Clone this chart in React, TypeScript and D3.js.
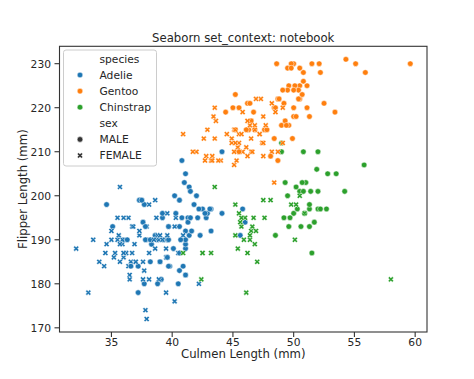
import React from "react";
import * as d3 from "d3";

type Pt = [number, number, string];

const adelie: Pt[] = [
  [39.1,181,"M"],[39.5,186,"F"],[40.3,195,"F"],[36.7,193,"F"],[39.3,190,"M"],[38.9,181,"F"],[39.2,195,"M"],[41.1,182,"F"],
  [38.6,191,"M"],[34.6,198,"M"],[36.6,185,"F"],[38.7,195,"F"],[42.5,197,"M"],[34.4,184,"F"],[46.0,194,"M"],[37.8,174,"F"],
  [37.7,180,"M"],[35.9,189,"F"],[38.2,185,"M"],[38.8,180,"M"],[35.3,187,"F"],[40.6,183,"M"],[40.5,187,"F"],[37.9,172,"F"],
  [40.5,180,"M"],[39.5,178,"F"],[37.2,178,"M"],[39.5,188,"F"],[40.9,184,"M"],[36.4,195,"F"],[39.2,196,"M"],[38.8,190,"M"],
  [42.2,180,"F"],[37.6,181,"F"],[39.8,184,"M"],[36.5,182,"F"],[40.8,195,"M"],[36.0,186,"F"],[44.1,196,"M"],[37.0,185,"F"],
  [39.6,190,"M"],[41.1,182,"M"],[36.0,190,"F"],[42.3,191,"M"],[39.6,186,"F"],[40.1,188,"M"],[35.0,190,"F"],[42.0,200,"M"],
  [34.5,187,"F"],[41.4,191,"M"],[39.0,185,"F"],[40.6,193,"M"],[36.5,181,"F"],[37.6,194,"M"],[35.7,185,"F"],[41.3,195,"M"],
  [37.6,185,"F"],[41.1,192,"M"],[36.4,184,"F"],[41.6,192,"M"],[35.5,195,"F"],[41.1,188,"M"],[35.9,190,"F"],[41.8,198,"M"],
  [33.5,190,"F"],[39.7,190,"M"],[39.6,196,"F"],[45.8,197,"M"],[35.5,190,"F"],[42.8,195,"M"],[40.9,191,"F"],[37.2,184,"M"],
  [36.2,187,"F"],[42.1,195,"M"],[34.6,189,"F"],[42.9,196,"M"],[36.7,187,"F"],[35.1,193,"M"],[37.3,191,"F"],[41.3,194,"M"],
  [36.3,190,"M"],[36.9,189,"F"],[38.3,189,"M"],[38.9,190,"F"],[35.7,202,"F"],[41.1,205,"M"],[34.0,185,"F"],[39.6,186,"M"],
  [36.2,187,"F"],[40.8,208,"M"],[38.1,190,"F"],[40.3,196,"M"],[33.1,178,"F"],[43.2,192,"M"],[35.0,192,"F"],[41.0,203,"M"],
  [37.7,183,"F"],[37.8,190,"M"],[37.9,193,"F"],[39.7,184,"M"],[38.6,199,"F"],[38.2,190,"M"],[38.1,181,"F"],[43.2,197,"M"],
  [38.1,198,"F"],[45.6,191,"M"],[39.7,193,"F"],[42.2,197,"M"],[39.6,191,"F"],[42.7,196,"M"],[38.6,188,"F"],[37.3,199,"M"],
  [35.7,189,"F"],[41.1,189,"M"],[36.2,187,"F"],[37.7,198,"M"],[40.2,176,"F"],[41.4,202,"M"],[35.2,186,"F"],[40.6,199,"M"],
  [38.8,191,"F"],[41.5,195,"M"],[39.0,191,"F"],[44.1,210,"M"],[38.5,190,"F"],[43.1,197,"M"],[36.8,193,"F"],[37.5,199,"M"],
  [38.1,187,"F"],[41.1,190,"M"],[35.6,191,"F"],[40.2,200,"M"],[37.0,185,"F"],[39.7,193,"M"],[40.2,193,"F"],[40.6,187,"M"],
  [32.1,188,"F"],[40.7,190,"M"],[37.3,192,"F"],[39.0,185,"M"],[39.2,190,"F"],[36.6,184,"M"],[36.0,195,"F"],[37.8,193,"M"],
  [36.0,187,"F"],[41.5,201,"M"],
];

const chinstrap: Pt[] = [
  [46.5,192,"F"],[50.0,196,"M"],[51.3,193,"M"],[45.4,188,"F"],[52.7,197,"M"],[45.2,198,"F"],[46.1,178,"F"],[51.3,197,"M"],
  [46.0,195,"F"],[51.3,198,"M"],[46.6,193,"F"],[51.7,194,"M"],[47.0,185,"F"],[52.0,201,"M"],[45.9,190,"F"],[50.5,201,"M"],
  [50.3,197,"M"],[58.0,181,"F"],[46.4,190,"F"],[49.2,195,"M"],[42.4,181,"F"],[48.5,191,"M"],[43.2,187,"F"],[50.6,193,"M"],
  [46.7,195,"F"],[52.0,197,"M"],[50.5,200,"F"],[49.5,200,"M"],[46.4,191,"F"],[52.8,205,"M"],[40.9,187,"F"],[54.2,201,"M"],
  [42.5,187,"F"],[51.0,203,"M"],[49.7,195,"M"],[47.5,199,"F"],[47.6,195,"F"],[52.0,210,"M"],[46.9,192,"F"],[53.5,205,"M"],
  [49.0,210,"M"],[46.2,187,"F"],[50.9,196,"M"],[45.5,196,"F"],[50.9,196,"F"],[50.8,201,"M"],[50.1,190,"F"],[49.0,212,"M"],
  [51.5,187,"M"],[49.8,198,"F"],[48.1,199,"F"],[51.4,201,"M"],[45.7,193,"F"],[50.7,203,"M"],[42.5,187,"F"],[52.2,197,"M"],
  [45.2,191,"F"],[49.3,203,"M"],[50.2,202,"M"],[45.6,194,"F"],[51.9,206,"M"],[46.8,189,"F"],[45.7,195,"F"],[55.8,207,"M"],
  [43.5,202,"F"],[49.6,193,"M"],[50.8,210,"M"],[50.2,198,"F"],
];

const gentoo: Pt[] = [
  [46.1,211,"F"],[50.0,230,"M"],[48.7,210,"F"],[50.0,218,"M"],[47.6,215,"M"],[46.5,210,"F"],[45.4,211,"F"],[46.7,219,"M"],
  [43.3,209,"F"],[46.8,215,"M"],[40.9,214,"F"],[49.0,216,"M"],[45.5,214,"F"],[48.4,213,"M"],[45.8,210,"F"],[49.3,217,"M"],
  [42.0,210,"F"],[49.2,221,"M"],[46.2,209,"F"],[48.7,222,"M"],[50.2,218,"M"],[45.1,215,"F"],[46.5,213,"F"],[46.3,215,"M"],
  [42.9,215,"F"],[46.1,215,"M"],[47.8,215,"M"],[48.2,210,"F"],[50.0,220,"M"],[47.3,222,"F"],[42.8,209,"F"],[45.1,207,"F"],
  [59.6,230,"M"],[49.1,220,"F"],[48.4,220,"M"],[42.6,213,"F"],[44.4,219,"M"],[44.0,208,"F"],[48.7,208,"M"],[42.7,208,"F"],
  [49.6,225,"M"],[45.3,210,"F"],[49.6,216,"M"],[50.5,222,"M"],[43.6,217,"F"],[45.5,210,"M"],[50.5,225,"M"],[44.9,213,"F"],
  [45.2,215,"M"],[46.6,210,"F"],[48.5,220,"M"],[45.1,210,"F"],[50.1,225,"M"],[46.5,217,"F"],[45.0,220,"M"],[43.8,208,"F"],
  [45.5,220,"M"],[43.2,208,"F"],[50.4,224,"M"],[45.3,208,"F"],[46.2,221,"M"],[45.7,214,"F"],[54.3,231,"M"],[45.8,219,"F"],
  [49.8,230,"M"],[49.5,229,"M"],[43.5,220,"F"],[50.7,223,"M"],[47.7,216,"F"],[46.4,221,"M"],[48.2,221,"F"],[46.5,217,"M"],
  [46.4,216,"F"],[48.6,230,"M"],[47.5,209,"F"],[51.1,220,"M"],[45.2,215,"F"],[45.2,223,"M"],[49.1,212,"F"],[52.5,221,"M"],
  [47.4,212,"F"],[50.0,224,"M"],[44.9,212,"F"],[50.8,228,"M"],[43.4,218,"F"],[51.3,218,"M"],[47.5,212,"F"],[52.1,230,"M"],
  [47.5,218,"F"],[52.2,228,"M"],[45.5,212,"F"],[49.5,224,"M"],[44.5,214,"F"],[50.8,226,"M"],[49.4,216,"M"],[46.9,222,"F"],
  [48.4,203,"F"],[51.1,225,"M"],[48.5,219,"F"],[55.9,228,"M"],[47.2,214,"F"],[49.1,224,"M"],[46.8,216,"F"],[41.7,210,"F"],
  [53.4,219,"M"],[43.3,208,"F"],[48.1,209,"M"],[50.5,229,"M"],[49.8,229,"M"],[43.5,213,"F"],[51.5,230,"M"],[46.2,217,"F"],
  [55.1,230,"M"],[48.8,222,"M"],[47.2,214,"F"],[46.8,215,"F"],[50.4,222,"M"],[45.2,212,"F"],[49.9,213,"M"],
];

const speciesNames = ["Adelie", "Gentoo", "Chinstrap"];
const speciesColors = ["#1f77b4", "#ff7f0e", "#2ca02c"];
const sexLabels = ["MALE", "FEMALE"];
const xTicks = [35, 40, 45, 50, 55, 60];
const yTicks = [170, 180, 190, 200, 210, 220, 230];

const W = 474, H = 379;
const L = 59.5, R = 427, T = 46.3, B = 332;
const FONT = "DejaVu Sans, sans-serif";
const TXT = "#262626";

const MS = 5.6; // marker size (px)

function xMarkerPath(size: number) {
  const v = [[-1,-2],[0,-1],[1,-2],[2,-1],[1,0],[2,1],[1,2],[0,1],[-1,2],[-2,1],[-1,0],[-2,-1]];
  const s = size / 4;
  return "M" + v.map(([a, b]) => `${(a * s).toFixed(2)},${(b * s).toFixed(2)}`).join("L") + "Z";
}

function Marker({ cx, cy, sex, color, edge }: { cx: number; cy: number; sex: string; color: string; edge: boolean }) {
  const sw = edge ? 0.5 : 0;
  if (sex === "M") {
    return <circle cx={cx} cy={cy} r={MS / 2} fill={color} stroke="#fff" strokeWidth={sw} />;
  }
  return <path d={xMarkerPath(MS)} transform={`translate(${cx},${cy})`} fill={color} stroke="#fff" strokeWidth={sw} />;
}

export default function App() {
  const x = d3.scaleLinear().domain([30.725, 60.975]).range([L, R]);
  const y = d3.scaleLinear().domain([169.05, 233.95]).range([B, T]);

  const groups: [Pt[], string][] = [
    [adelie, speciesColors[0]],
    [chinstrap, speciesColors[2]],
    [gentoo, speciesColors[1]],
  ];

  const legendRows: { label: string; kind: string; color?: string; sex?: string }[] = [
    { label: "species", kind: "title" },
    ...speciesNames.map((n, i) => ({ label: n, kind: "item", color: speciesColors[i], sex: "M" })),
    { label: "sex", kind: "title" },
    ...sexLabels.map((s) => ({ label: s, kind: "item", color: "#333333", sex: s === "MALE" ? "M" : "F" })),
  ];

  return (
    <svg width={W} height={H} style={{ position: "absolute", left: 0, top: 0, background: "#fff" }} fontFamily={FONT}>
      <rect x={0} y={0} width={W} height={H} fill="#fff" />
      {/* points */}
      <g>
        {groups.map(([data, color], gi) =>
          data.map((d, i) => (
            <Marker key={`${gi}-${i}`} cx={x(d[0])} cy={y(d[1])} sex={d[2]} color={color} edge={true} />
          ))
        )}
      </g>
      {/* spines */}
      <rect x={L} y={T} width={R - L} height={B - T} fill="none" stroke="#333" strokeWidth={1.1} />
      {/* x ticks */}
      {xTicks.map((t) => (
        <g key={`xt${t}`}>
          <line x1={x(t)} x2={x(t)} y1={B} y2={B + 5} stroke="#333" strokeWidth={1.1} />
          <text x={x(t)} y={345.5} textAnchor="middle" fontSize={10.7} fill={TXT}>{t}</text>
        </g>
      ))}
      {/* y ticks */}
      {yTicks.map((t) => (
        <g key={`yt${t}`}>
          <line x1={L - 5} x2={L} y1={y(t)} y2={y(t)} stroke="#333" strokeWidth={1.1} />
          <text x={51} y={y(t) + 3.9} textAnchor="end" fontSize={10.7} fill={TXT}>{t}</text>
        </g>
      ))}
      {/* axis labels */}
      <text x={(L + R) / 2} y={358} textAnchor="middle" fontSize={11.7} fill={TXT}>Culmen Length (mm)</text>
      <text transform={`translate(26.5,${(T + B) / 2}) rotate(-90)`} textAnchor="middle" fontSize={11.7} fill={TXT}>Flipper Length (mm)</text>
      {/* title */}
      <text x={(L + R) / 2} y={41.5} textAnchor="middle" fontSize={11.7} fill={TXT}>Seaborn set_context: notebook</text>
      {/* legend */}
      <g>
        <rect x={63.5} y={50} width={93} height={116} rx={2.5} fill="#fff" fillOpacity={0.8} stroke="#cccccc" strokeWidth={1} />
        {legendRows.map((r, i) => {
          const by = 62.5 + i * 16.1;
          return (
            <g key={`lg${i}`}>
              {r.kind === "item" && (
                <Marker cx={80} cy={by - 3.6} sex={r.sex!} color={r.color!} edge={true} />
              )}
              <text x={99.5} y={by} fontSize={10.7} fill={TXT}>{r.label}</text>
            </g>
          );
        })}
      </g>
    </svg>
  );
}
